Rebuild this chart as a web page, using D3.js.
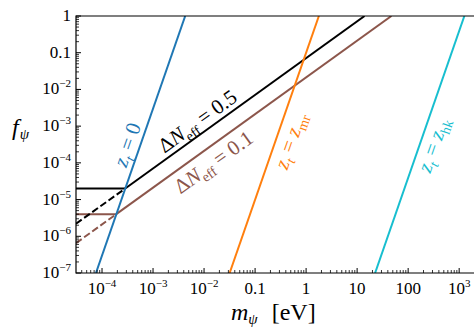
<!DOCTYPE html>
<html><head><meta charset="utf-8">
<script src="https://cdn.jsdelivr.net/npm/d3@7"></script>
<style>
body{margin:0;background:#fff}
svg{display:block}
</style>
</head><body>
<svg id="c" width="474" height="336" font-family="'Liberation Serif', 'DejaVu Serif', serif"></svg>
<script>
// ---- data ----
const xDomain = [Math.pow(10, -4.51), Math.pow(10, 3.33)];
const yDomain = [1e-7, 1];
const xTicks = [1e-4, 1e-3, 1e-2, 0.1, 1, 10, 100, 1e3];
const xTickLabels = [["10","−4"],["10","−3"],["10","−2"],["0.1",""],["1",""],["10",""],["100",""],["10","3"]];
const yTicks = [1, 0.1, 1e-2, 1e-3, 1e-4, 1e-5, 1e-6, 1e-7];
const yTickLabels = [["1",""],["0.1",""],["10","−2"],["10","−3"],["10","−4"],["10","−5"],["10","−6"],["10","−7"]];

// lines: [m_psi (eV), f_psi]
const zt0   = [[7.6e-5, 1e-7], [4.27e-3, 1]];
const ztMr  = [[0.0317, 1e-7], [1.78, 1]];
const ztHk  = [[22.5, 1e-7], [1265, 1]];
const n05Flat  = [[3.09e-5, 2e-5], [2.85e-4, 2e-5]];
const n05Solid = [[2.85e-4, 2e-5], [14, 1]];
const n05Dash  = [[3.09e-5, 2.2e-6], [2.85e-4, 2e-5]];
const n01Flat  = [[3.09e-5, 4e-6], [1.9e-4, 4e-6]];
const n01Solid = [[1.9e-4, 4e-6], [47, 1]];
const n01Dash  = [[3.09e-5, 6.5e-7], [1.9e-4, 4e-6]];

// annotations: anchor in data coords, parallel to a given line
const labels = [
  {at:[3.24e-4, 3.06e-4], along: zt0, color:"#1f77b4",
   parts:[{t:"z",it:1},{t:"t",it:1,sub:1},{t:" = 0"}]},
  {at:[7.6e-3, 1.29e-3], along: n05Solid, color:"#000",
   parts:[{t:"Δ"},{t:"N",it:1},{t:"eff",sub:1},{t:" = 0.5"}]},
  {at:[1.57e-2, 9.9e-5], along: n01Solid, color:"#8c564b",
   parts:[{t:"Δ"},{t:"N",it:1},{t:"eff",sub:1},{t:" = 0.1"}]},
  {at:[0.506, 3.94e-4], along: ztMr, color:"#ff7f0e",
   parts:[{t:"z",it:1},{t:"t",it:1,sub:1},{t:" = "},{t:"z",it:1},{t:"mr",sub:1}]},
  {at:[321, 3.06e-4], along: ztHk, color:"#17becf",
   parts:[{t:"z",it:1},{t:"t",it:1,sub:1},{t:" = "},{t:"z",it:1},{t:"hk",sub:1}]}
];

// ---- layout ----
const L = 76, T = 16, R = 476, B = 273;
const svg = d3.select("#c");
const x = d3.scaleLog().domain(xDomain).range([L, R]);
const y = d3.scaleLog().domain(yDomain).range([B, T]);

svg.append("defs").append("clipPath").attr("id","clip")
  .append("rect").attr("x",L).attr("y",T).attr("width",R-L).attr("height",B-T);

const g = svg.append("g").attr("clip-path","url(#clip)");
const line = d3.line().x(d=>x(d[0])).y(d=>y(d[1]));

function draw(data, color, dash){
  g.append("path").attr("d", line(data)).attr("fill","none")
   .attr("stroke", color).attr("stroke-width", 2)
   .attr("stroke-dasharray", dash || null);
}
draw(n01Dash, "#8c564b", "7,3");
draw(n01Flat, "#8c564b");
draw(n01Solid, "#8c564b");
draw(n05Dash, "#000", "7,3");
draw(n05Flat, "#000");
draw(n05Solid, "#000");
draw(zt0, "#1f77b4");
draw(ztMr, "#ff7f0e");
draw(ztHk, "#17becf");

// ---- axes ----
function minorTicks(dom){
  const out=[];
  const lo=Math.floor(Math.log10(dom[0])), hi=Math.ceil(Math.log10(dom[1]));
  for(let e=lo;e<=hi;e++) for(let k=2;k<=9;k++){
    const v=k*Math.pow(10,e); if(v>=dom[0]&&v<=dom[1]) out.push(v);
  }
  return out;
}
const ax = svg.append("g").attr("stroke","#000").attr("stroke-width",1);
xTicks.forEach(v=>ax.append("line").attr("x1",x(v)).attr("x2",x(v)).attr("y1",B).attr("y2",B-5));
minorTicks(xDomain).forEach(v=>ax.append("line").attr("x1",x(v)).attr("x2",x(v)).attr("y1",B).attr("y2",B-3).attr("stroke-width",0.8));
yTicks.forEach(v=>ax.append("line").attr("y1",y(v)).attr("y2",y(v)).attr("x1",L).attr("x2",L+5));
minorTicks(yDomain).forEach(v=>ax.append("line").attr("y1",y(v)).attr("y2",y(v)).attr("x1",L).attr("x2",L+3).attr("stroke-width",0.8));
svg.append("path").attr("d",`M${R},${T}H${L}V${B}H${R}`).attr("fill","none")
  .attr("stroke","#000").attr("stroke-width",1.2);

// tick labels
function powLabel(sel, base, sup){
  sel.append("tspan").text(base);
  if(sup) sel.append("tspan").attr("dy",-7).attr("font-size",11).text(sup);
}
xTicks.forEach((v,i)=>{
  const t = svg.append("text").attr("x",x(v)).attr("y",294)
     .attr("text-anchor","middle").attr("font-size",17);
  powLabel(t, xTickLabels[i][0], xTickLabels[i][1]);
});
yTicks.forEach((v,i)=>{
  const t = svg.append("text").attr("x",71).attr("y",y(v)+5)
     .attr("text-anchor","end").attr("font-size",17);
  powLabel(t, yTickLabels[i][0], yTickLabels[i][1]);
});

// axis titles
const yl = svg.append("text").attr("x",12).attr("y",135).attr("font-size",24);
yl.append("tspan").attr("font-style","italic").text("f");
yl.append("tspan").attr("font-style","italic").attr("font-size",15).attr("dy",4).attr("dx",1).text("ψ");

const xl = svg.append("text").attr("x",231).attr("y",320).attr("font-size",24);
xl.append("tspan").attr("font-style","italic").text("m");
xl.append("tspan").attr("font-style","italic").attr("font-size",15).attr("dy",4).text("ψ");
xl.append("tspan").attr("dy",-4).attr("dx",14).text("[eV]");

// annotations
labels.forEach(lb=>{
  const a = lb.along;
  const ang = Math.atan2(y(a[1][1])-y(a[0][1]), x(a[1][0])-x(a[0][0]))*180/Math.PI;
  const t = svg.append("text")
    .attr("transform",`translate(${x(lb.at[0])},${y(lb.at[1])}) rotate(${ang})`)
    .attr("text-anchor","middle").attr("font-size",21).attr("dy",6)
    .attr("style", `fill:${lb.color};white-space:pre`);
  let shift=0;
  lb.parts.forEach(p=>{
    const s = t.append("tspan").text(p.t);
    if(p.it) s.attr("font-style","italic");
    if(p.sub){ s.attr("font-size",14).attr("dy",5-shift); shift=5; }
    else { if(shift){ s.attr("dy",-shift); shift=0; } }
  });
});
</script>
</body></html>
